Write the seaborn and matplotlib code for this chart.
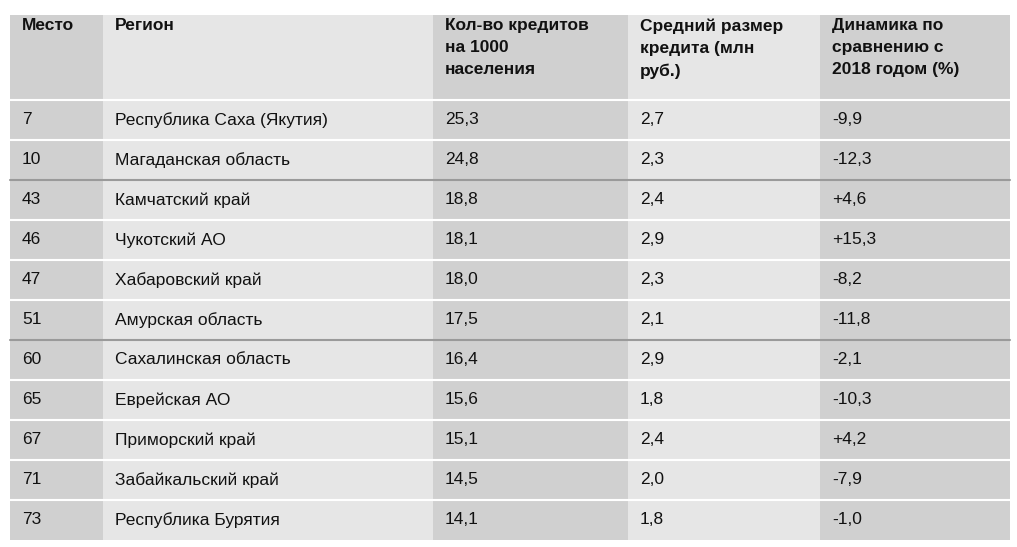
import matplotlib
matplotlib.use("Agg")
import matplotlib.pyplot as plt
import numpy as np
import seaborn as sns

places = ["7", "10", "43", "46", "47", "51", "60", "65", "67", "71", "73"]
regions = ["Республика Саха (Якутия)", "Магаданская область", "Камчатский край",
           "Чукотский АО", "Хабаровский край", "Амурская область", "Сахалинская область",
           "Еврейская АО", "Приморский край", "Забайкальский край", "Республика Бурятия"]
loans_per_1000 = ["25,3", "24,8", "18,8", "18,1", "18,0", "17,5", "16,4", "15,6", "15,1", "14,5", "14,1"]
avg_size = ["2,7", "2,3", "2,4", "2,9", "2,3", "2,1", "2,9", "1,8", "2,4", "2,0", "1,8"]
change = ["-9,9", "-12,3", "+4,6", "+15,3", "-8,2", "-11,8", "-2,1", "-10,3", "+4,2", "-7,9", "-1,0"]
headers = ["Место", "Регион", "Кол-во кредитов\nна 1000\nнаселения",
           "Средний размер\nкредита (млн\nруб.)", "Динамика по\nсравнению с\n2018 годом (%)"]

sns.set_theme(style="white", font="Liberation Sans")

W, H = 1017, 547
col_edges = np.array([10, 103, 433, 628, 820, 1010])
header_top, header_bottom, row_h = 15, 100, 40
n = len(places)
row_edges = np.concatenate([[header_top], header_bottom + row_h * np.arange(n + 1)])

fig = plt.figure(figsize=(W / 100, H / 100), dpi=100)
ax = fig.add_axes([0, 0, 1, 1])
ax.set_xlim(0, W)
ax.set_ylim(H, 0)
ax.axis("off")

shade = np.tile(np.arange(5) % 2 == 0, (n + 1, 1)).astype(float)
ax.pcolormesh(col_edges, row_edges, shade, cmap=matplotlib.colors.ListedColormap(["#e6e6e6", "#d0d0d0"]),
              vmin=0, vmax=1)

for i in range(0, n):
    y = header_bottom + row_h * i
    color = "#9a9a9a" if i in (2, 6) else "white"
    ax.plot([col_edges[0], col_edges[-1]], [y, y], color=color, lw=1.5)

for j, h in enumerate(headers):
    ax.text(col_edges[j] + 12, header_top + 3, h, fontsize=12.5, fontweight="bold",
            va="top", ha="left", linespacing=1.6, color="#111111")

columns = [places, regions, loans_per_1000, avg_size, change]
for j, col in enumerate(columns):
    for i, val in enumerate(col):
        ax.text(col_edges[j] + 12, header_bottom + row_h * (i + 0.5), val, fontsize=12.5,
                va="center", ha="left", color="#111111")

fig.savefig("out.png", dpi=100)
